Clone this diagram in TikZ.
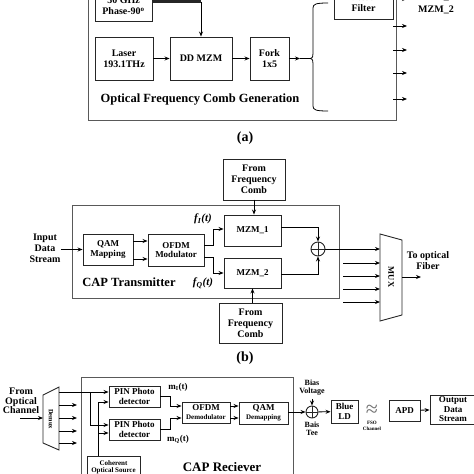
\documentclass[tikz,border=0pt]{standalone}
\usepackage{fontspec}
\setmainfont{Liberation Serif}
\usetikzlibrary{arrows.meta}

\begin{document}
\begin{tikzpicture}[x=1pt, y=-1pt, >={Stealth[length=5pt,width=4pt]}, line width=0.8pt,
  blk/.style={draw=black!85, line width=0.9pt, align=center, inner sep=0pt, font=\bfseries\fontsize{10}{11}\selectfont},
  sblk/.style={blk, font=\bfseries\fontsize{9}{9.5}\selectfont},
  lbl/.style={align=center, inner sep=0pt, font=\bfseries\fontsize{10}{11}\selectfont},
  slbl/.style={lbl, font=\bfseries\fontsize{8}{8.5}\selectfont},
  ttl/.style={lbl, font=\bfseries\fontsize{12.5}{14}\selectfont},
  frm/.style={draw=black!65, line width=0.9pt},
  sumnode/.style={draw=black!85, circle, line width=0.9pt, inner sep=0pt}]
\useasboundingbox (0,0) rectangle (474,474);
\clip (0,0) rectangle (474,474);

% (a) optical frequency comb generation
\draw[frm] (88,-30) rectangle (396,120);
\node[blk, minimum width=57pt, minimum height=30pt] (phase) at (123.5,6) {30 GHz\\Phase-90\textsuperscript{o}};
\node[blk, minimum width=58pt, minimum height=43pt] (laser) at (124,58.5) {Laser\\193.1THz};
\node[blk, minimum width=62pt, minimum height=43pt] (ddmzm) at (201,58.5) {DD MZM};
\node[blk, minimum width=39pt, minimum height=43pt] (fork) at (269.5,58.5) {Fork\\1x5};
\node[blk, minimum width=59pt, minimum height=32pt] (filter) at (363.5,3) {Bessel\\Filter};
\node[lbl] (mzmone) at (436,-3) {MZM\_1};
\node[lbl] (mzmtwo) at (436,10) {MZM\_2};
\node[ttl] (ofcg) at (200,100) {Optical Frequency Comb Generation};
\node[ttl, font=\bfseries\fontsize{14}{16}\selectfont] (capa) at (245,138) {(a)};
\coordinate (tip) at (310,58.5);
\draw[black!85, line width=3pt] (phase.east |- 0,1.5) -- (ddmzm.north |- 0,1.5);
\draw[->] (ddmzm.north |- 0,1.5) -- (ddmzm.north);
\draw[->] (laser) -- (ddmzm);
\draw[->] (ddmzm) -- (fork);
\draw[->] (fork) -- (300,58.5);
\draw (300,58.5) -- (tip);
\draw (tip) .. controls (313,58.5) and (313,56) .. (313,50) -- (313,8)
  .. controls (313,4) and (316,3) .. (328,3);
\draw (tip) .. controls (313,58.5) and (313,61) .. (313,67) -- (313,106)
  .. controls (313,110) and (316,111) .. (328,111);
\draw[->] (393,-1) -- (407,-1);
\draw[->] (393,26) -- (407,26);
\draw[->] (393,50) -- (407,50);
\draw[->] (393,73) -- (407,73);
\draw[->] (393,99) -- (407,99);

% (b) CAP transmitter
\draw[frm] (72,205) rectangle (339,298);
\node[blk, minimum width=62pt, minimum height=41pt] (combt) at (254,179.5) {From\\Frequency\\Comb};
\node[blk, minimum width=63pt, minimum height=40pt] (combb) at (250.5,323) {From\\Frequency\\Comb};
\node[sblk, minimum width=50pt, minimum height=31pt] (qam) at (108,249.5) {QAM\\Mapping};
\node[sblk, minimum width=56pt, minimum height=32pt] (ofdm) at (176,250) {OFDM\\Modulator};
\node[sblk, minimum width=57pt, minimum height=31pt] (mzma) at (252.5,230.5) {MZM\_1};
\node[sblk, minimum width=57pt, minimum height=30pt] (mzmb) at (252.5,273) {MZM\_2};
\node[sumnode, minimum size=14pt] (sum) at (318,249) {};
\draw[black!85] (sum.north) -- (sum.south) (sum.west) -- (sum.east);
\node[lbl] (input) at (45,248) {Input\\Data\\Stream};
\node[lbl, font=\bfseries\itshape\fontsize{11}{12}\selectfont] (fi) at (203,219) {f\textsubscript{I}(t)};
\node[lbl, font=\bfseries\itshape\fontsize{11}{12}\selectfont] (fq) at (203,283) {f\textsubscript{Q}(t)};
\node[ttl] (capt) at (129,282) {CAP Transmitter};
\draw[black!85, line width=0.9pt] (380,234) -- (402,240) -- (402,315) -- (380,321) -- cycle;
\node[lbl, rotate=-90, font=\bfseries\fontsize{8.5}{9}\selectfont] (mux) at (391,277) {MUX};
\node[lbl] (fiber) at (428,261) {To optical\\Fiber};
\coordinate (mxa) at (380,249);
\coordinate (mxout) at (402,277);
\draw[->] (input.east |- qam) -- (qam);
\draw[->] (qam.east |- 0,241) -- (ofdm.west |- 0,241);
\draw[->] (qam.east |- 0,259) -- (ofdm.west |- 0,259);
\draw[->] (ofdm.east |- 0,245) -| (213,229) -- (mzma.west |- 0,229);
\draw[->] (ofdm.east |- 0,257) -| (213,273) -- (mzmb.west |- 0,273);
\draw[->] (combt.south |- mzma.north) ++(0,-15) -- (mzma.north -| combt.south);
\draw[->] (combb.north -| mzmb.south) -- (mzmb.south);
\draw[->] (mzma.east |- 0,227) -| (sum.north);
\draw[->] (mzmb.east |- 0,274) -| (sum.south);
\draw[->] (sum) -- (mxa);
\draw[->] (343,263) -- (380,263);
\draw[->] (343,276) -- (380,276);
\draw[->] (343,289) -- (380,289);
\draw[->] (343,302) -- (380,302);
\draw[->] (mxout) -- (421,277);
\node[ttl, font=\bfseries\fontsize{14}{16}\selectfont] (capb) at (245,358) {(b)};

% (c) CAP receiver
\draw[frm] (81,377) rectangle (293,490);
\draw[black!85, line width=0.9pt] (43,395) -- (59,387) -- (59,450) -- (43,443) -- cycle;
\node[lbl, rotate=-90, font=\bfseries\fontsize{6.5}{7}\selectfont] (demux) at (51,419) {Demux};
\node[lbl, font=\bfseries\fontsize{10}{9.5}\selectfont] (fromch) at (21,401) {From\\Optical\\Channel};
\node[sblk, minimum width=51pt, minimum height=21pt] (pina) at (134.5,396.5) {PIN Photo\\detector};
\node[sblk, minimum width=51pt, minimum height=21pt] (pinb) at (134.5,429.5) {PIN Photo\\detector};
\node[blk, minimum width=53pt, minimum height=23pt, font=\bfseries\fontsize{7}{7.5}\selectfont] (coh) at (113.5,467.5) {Coherent\\Optical Source};
\node[blk, minimum width=48pt, minimum height=21pt, font=\bfseries\fontsize{9}{9}\selectfont] (ofdmd) at (206,412.5) {OFDM\\{\fontsize{7}{7}\selectfont Demodulator}};
\node[blk, minimum width=49pt, minimum height=22pt, font=\bfseries\fontsize{9}{9}\selectfont] (qamd) at (263.5,413) {QAM\\{\fontsize{7}{7}\selectfont Demapping}};
\node[lbl, font=\bfseries\fontsize{9}{10}\selectfont] (mi) at (178,387) {m\textsubscript{I}(t)};
\node[lbl, font=\bfseries\fontsize{9}{10}\selectfont] (mq) at (178,439) {m\textsubscript{Q}(t)};
\node[ttl, font=\bfseries\fontsize{13}{14}\selectfont] (caprx) at (222,467) {CAP Reciever};
\node[sumnode, minimum size=12pt] (tee) at (312,412) {};
\draw[black!85] (tee.north) -- (tee.south) (tee.west) -- (tee.east);
\node[slbl] (bias) at (312,387.5) {Bias\\Voltage};
\node[slbl] (bais) at (312,429) {Bais\\Tee};
\node[sblk, minimum width=27pt, minimum height=23pt] (blue) at (344.5,411.5) {Blue\\LD};
\node[lbl, text=black!55, font=\fontsize{22}{22}\selectfont] (wave) at (372,411) {\char"2248};
\node[lbl, font=\bfseries\fontsize{5}{5.5}\selectfont] (fso) at (372,426) {FSO\\Channel};
\node[sblk, minimum width=31pt, minimum height=21pt] (apd) at (404.5,410.5) {APD};
\node[sblk, minimum width=46pt, minimum height=29pt] (out) at (453,409.5) {Output\\Data\\Stream};
\coordinate (dxin) at (43,418);
\coordinate (dxa) at (59,392);
\coordinate (split) at (90,392);
\coordinate (cohup) at (98,402);
\draw[->] (20,418) -- (dxin);
\draw[->] (dxa) -- (pina.west |- dxa);
\draw[->] (split) |- (pinb.west |- 0,425);
\draw[->] (coh.north -| cohup) -- (cohup) -- (pina.west |- cohup);
\draw[->] (cohup |- 0,433) -- (pinb.west |- 0,433);
\draw[->] (59,405) -- (77,405);
\draw[->] (59,418) -- (77,418);
\draw[->] (59,431) -- (77,431);
\draw[->] (59,443) -- (77,443);
\draw[->] (pina.east |- 0,396) -| (170,406) -- (ofdmd.west |- 0,406);
\draw[->] (pinb.east |- 0,429) -| (170,418) -- (ofdmd.west |- 0,418);
\draw[->] (ofdmd.east |- 0,406) -- (qamd.west |- 0,406);
\draw[->] (ofdmd.east |- 0,418) -- (qamd.west |- 0,418);
\draw[->] (qamd.east |- tee) -- (tee);
\draw[->] (bias.south) ++(0,3) -- (tee.north);
\draw[->] (tee) -- (blue);
\draw[->] (apd) -- (out);
\end{tikzpicture}
\end{document}
